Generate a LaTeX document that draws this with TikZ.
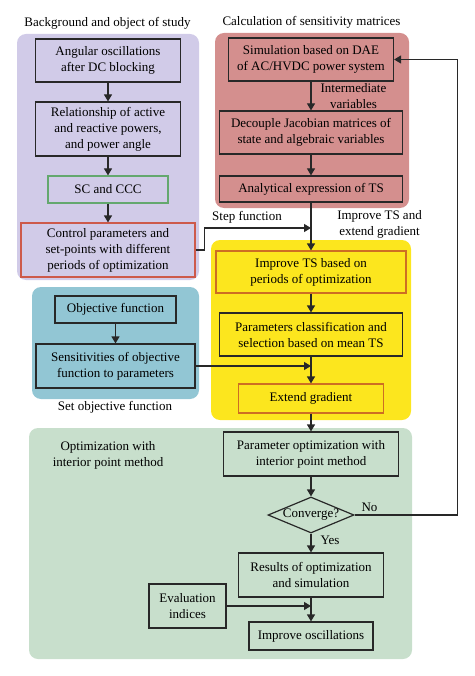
\documentclass[tikz,border=0pt]{standalone}
\usepackage{tikz}
\usepackage{fontspec}
\setmainfont{Liberation Serif}
\usetikzlibrary{positioning}
\usetikzlibrary{arrows.meta,shapes.geometric}

\definecolor{bglilac}{RGB}{209,203,232}
\definecolor{bgrose}{RGB}{212,143,142}
\definecolor{bgyellow}{RGB}{252,230,30}
\definecolor{bgblue}{RGB}{146,198,212}
\definecolor{bggreen}{RGB}{200,223,204}
\definecolor{lineblack}{RGB}{40,40,40}
\definecolor{lineltgreen}{RGB}{100,168,110}
\definecolor{linered}{RGB}{205,90,75}
\definecolor{lineorange}{RGB}{205,110,35}

\begin{document}
\begin{tikzpicture}
  [x=1pt,y=-1pt,
  every node/.style={font=\fontsize{13}{16}\selectfont},
  box/.style={rectangle,draw=lineblack,line width=1.2pt,align=center,inner sep=1pt},
  greenbox/.style={box,draw=lineltgreen},
  redbox/.style={box,draw=linered},
  orangebox/.style={box,draw=lineorange},
  decision/.style={diamond,draw=lineblack,line width=1.2pt,aspect=2.4,inner sep=0pt,minimum width=86pt,minimum height=36pt},
  txt/.style={align=center,inner sep=0pt},
  flow/.style={-{Triangle[length=7pt,width=8pt]},lineblack,line width=1.2pt},
  panel/.style={rounded corners=9pt}]
  \useasboundingbox (0,0) rectangle (474,676);

  \fill[panel,bglilac] (17,34) rectangle (199,280);
  \fill[panel,bgrose] (215,33) rectangle (409,208);
  \fill[panel,bgyellow] (211,240) rectangle (411,420);
  \fill[panel,bgblue] (32,287) rectangle (199,399);
  \fill[panel,bggreen] (29,428) rectangle (412,659);

  \node[txt] (bgtitle) at (107.5,23) {Background and object of study};
  \node[txt] (calctitle) at (311.5,22) {Calculation of sensitivity matrices};

  \node[box,minimum width=145pt,minimum height=43pt] (ang) at (108,60.5) {Angular oscillations\\after DC blocking};
  \node[box,minimum width=145pt,minimum height=54pt] (rel) at (108,129) {Relationship of active\\and reactive powers,\\and power angle};
  \node[greenbox,minimum width=120pt,minimum height=27pt] (sc) at (108,189.5) {SC and CCC};
  \node[redbox,minimum width=174pt,minimum height=54pt] (ctrl) at (108,250) {Control parameters and\\set-points with different\\periods of optimization};

  \node[box,minimum width=165pt,minimum height=43pt] (sim) at (311,59.5) {Simulation based on DAE\\of AC/HVDC power system};
  \node[box,minimum width=183pt,minimum height=43pt] (dec) at (311,132.5) {Decouple Jacobian matrices of\\state and algebraic variables};
  \node[box,minimum width=183pt,minimum height=26pt] (ana) at (311,189) {Analytical expression of TS};

  \node[orangebox,minimum width=190pt,minimum height=42pt] (imp) at (311,272) {Improve TS based on\\periods of optimization};
  \node[box,minimum width=183pt,minimum height=43pt] (par) at (311,334.5) {Parameters classification and\\selection based on mean TS};
  \node[orangebox,minimum width=145pt,minimum height=29pt] (ext) at (311,398.5) {Extend gradient};

  \node[box,minimum width=121pt,minimum height=27pt] (obj) at (115.5,309.5) {Objective function};
  \node[box,minimum width=159pt,minimum height=44pt] (sens) at (115.5,366) {Sensitivities of objective\\function to parameters};
  \node[txt] (settitle) at (115,407) {Set objective function};

  \node[txt] (opttitle) at (108,455) {Optimization with\\interior point method};
  \node[box,minimum width=175pt,minimum height=44pt] (popt) at (311,454) {Parameter optimization with\\interior point method};
  \node[decision] (conv) at (311,515) {Converge?};
  \node[box,minimum width=145pt,minimum height=44pt] (res) at (311,575) {Results of optimization\\and simulation};
  \node[box,minimum width=77pt,minimum height=44pt] (eval) at (187.5,606) {Evaluation\\indices};
  \node[box,minimum width=124pt,minimum height=28pt] (impo) at (311,636) {Improve oscillations};

  \node[txt] (inter) at (353.5,96.5) {Intermediate\\variables};
  \node[txt] (steplbl) at (247,217) {Step function};
  \node[txt] (improvelbl) at (379.5,224.5) {Improve TS and\\extend gradient};
  \node[txt] (nolbl) at (369.5,507) {No};
  \node[txt] (yeslbl) at (330,540) {Yes};

  \coordinate (stepjoin) at (311,228);
  \coordinate (sensjoin) at (311,366);
  \coordinate (evaljoin) at (311,606);

  \draw[flow] (ang) -- (rel);
  \draw[flow] (rel) -- (sc);
  \draw[flow] (sc) -- (ctrl);

  \draw[flow] (sim) -- (dec);
  \draw[flow] (dec) -- (ana);
  \draw[flow] (ana) -- (imp);
  \draw[flow] (ctrl.east) -- ++(9,0) |- (stepjoin);

  \draw[flow] (imp) -- (par);
  \draw[flow] (par) -- (ext);
  \draw[flow] (obj) -- (sens);
  \draw[flow] (sens.east) -- (sensjoin);

  \draw[flow] (ext) -- (popt);
  \draw[flow] (popt) -- (conv);
  \draw[flow] (conv) -- (res);
  \draw[flow] (conv.east) -- ++(103,0) |- (sim.east);
  \draw[flow] (res) -- (impo);
  \draw[flow] (eval.east) -- (evaljoin);

\end{tikzpicture}
\end{document}
